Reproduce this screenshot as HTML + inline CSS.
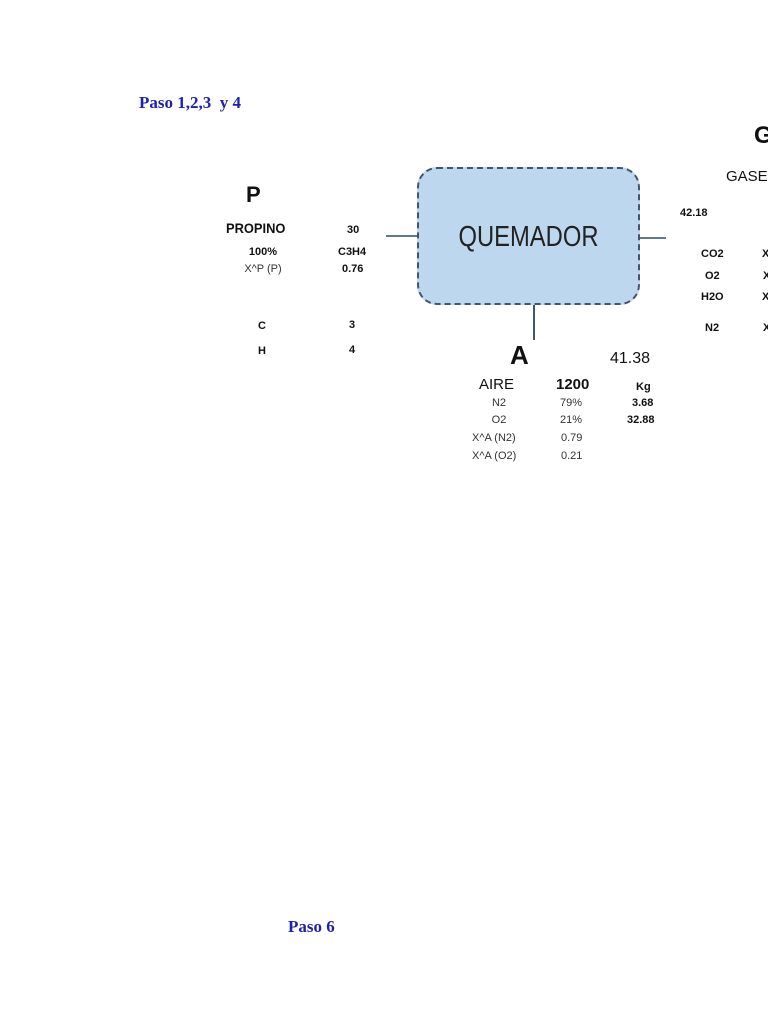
<!DOCTYPE html>
<html><head><meta charset="utf-8"><style>
body{margin:0;width:768px;height:1024px;background:#fff;position:relative;overflow:hidden;font-family:"Liberation Sans",Arial,sans-serif;}
.a{position:absolute;white-space:nowrap;color:#111;}
.b{font-weight:bold;}
.s{font-size:11px;font-weight:bold;}
.t{font-size:11px;color:#333;}
.c{text-align:center;}
</style></head><body>
<div class="a" style="left:139px;top:93px;font-family:'Liberation Serif',serif;font-weight:bold;font-size:17px;color:#1f1fb0;">Paso 1,2,3&nbsp; y 4</div>
<div class="a" style="left:288px;top:917px;font-family:'Liberation Serif',serif;font-weight:bold;font-size:17px;color:#1f1fb0;">Paso 6</div>

<div class="a" style="left:417px;top:167px;width:219px;height:134px;background:#bdd7ee;border:2px dashed #44546a;border-radius:20px;"></div>
<div class="a" style="left:417px;top:221px;width:223px;text-align:center;font-size:29px;color:#222;transform:scaleX(0.82);transform-origin:center;">QUEMADOR</div>
<div class="a" style="left:386px;top:235px;width:31px;height:2px;background:#5b7a95;"></div>
<div class="a" style="left:640px;top:237px;width:26px;height:2px;background:#5b7a95;"></div>
<div class="a" style="left:533px;top:305px;width:2px;height:35px;background:#44546a;"></div>

<div class="a b" style="left:246px;top:182px;font-size:22px;">P</div>
<div class="a b" style="left:226px;top:220px;font-size:14px;transform:scaleX(0.92);transform-origin:left;">PROPINO</div>
<div class="a s" style="left:347px;top:224px;">30</div>
<div class="a s c" style="left:230px;top:246px;width:66px;">100%</div>
<div class="a s" style="left:338px;top:246px;">C3H4</div>
<div class="a t c" style="left:230px;top:263px;width:66px;">X^P (P)</div>
<div class="a s" style="left:342px;top:263px;">0.76</div>
<div class="a s" style="left:258px;top:320px;">C</div>
<div class="a s" style="left:349px;top:319px;">3</div>
<div class="a s" style="left:258px;top:345px;">H</div>
<div class="a s" style="left:349px;top:344px;">4</div>

<div class="a b" style="left:510px;top:340px;font-size:26px;">A</div>
<div class="a" style="left:610px;top:350px;font-size:16px;">41.38</div>
<div class="a" style="left:479px;top:376px;font-size:15px;">AIRE</div>
<div class="a b" style="left:556px;top:376px;font-size:15px;">1200</div>
<div class="a s" style="left:636px;top:381px;">Kg</div>
<div class="a t c" style="left:470px;top:397px;width:58px;">N2</div>
<div class="a t" style="left:560px;top:397px;">79%</div>
<div class="a s" style="left:632px;top:397px;">3.68</div>
<div class="a t c" style="left:470px;top:414px;width:58px;">O2</div>
<div class="a t" style="left:560px;top:414px;">21%</div>
<div class="a s" style="left:627px;top:414px;">32.88</div>
<div class="a t" style="left:472px;top:432px;">X^A (N2)</div>
<div class="a t" style="left:561px;top:432px;">0.79</div>
<div class="a t" style="left:472px;top:450px;">X^A (O2)</div>
<div class="a t" style="left:561px;top:450px;">0.21</div>

<div class="a b" style="left:754px;top:122px;font-size:24px;">G</div>
<div class="a" style="left:726px;top:168px;font-size:15px;">GASES</div>
<div class="a s" style="left:680px;top:207px;">42.18</div>
<div class="a s" style="left:701px;top:248px;">CO2</div>
<div class="a s" style="left:762px;top:248px;">X</div>
<div class="a s" style="left:705px;top:270px;">O2</div>
<div class="a s" style="left:763px;top:270px;">X</div>
<div class="a s" style="left:701px;top:291px;">H2O</div>
<div class="a s" style="left:762px;top:291px;">X</div>
<div class="a s" style="left:705px;top:322px;">N2</div>
<div class="a s" style="left:763px;top:322px;">X</div>
</body></html>
